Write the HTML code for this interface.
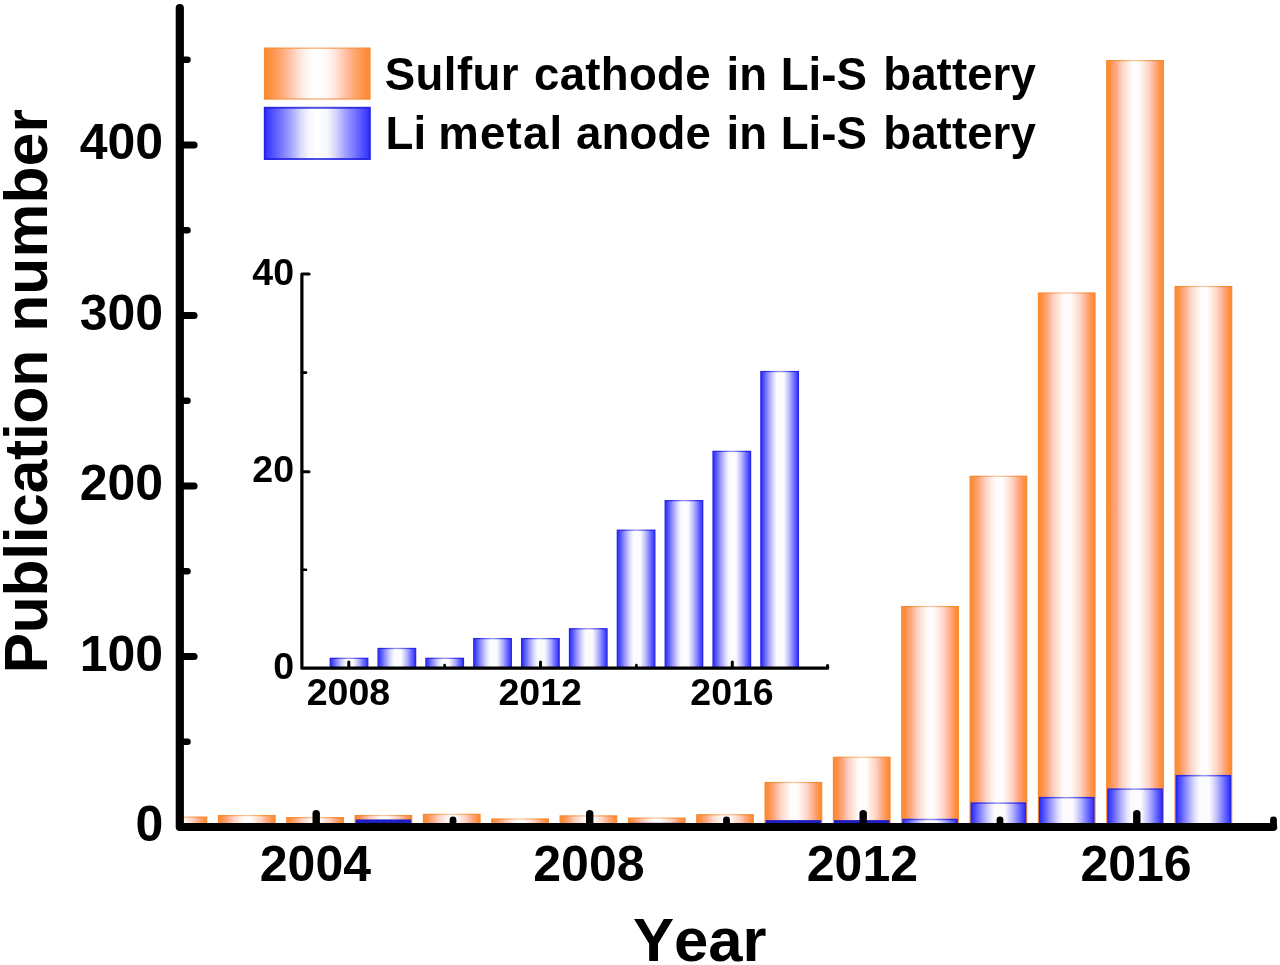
<!DOCTYPE html>
<html><head><meta charset="utf-8"><title>Publication number chart</title>
<style>html,body{margin:0;padding:0;background:#fff;}body{width:1280px;height:965px;overflow:hidden;}svg{display:block;filter:blur(0.55px);}text{font-family:"Liberation Sans",Arial,sans-serif;font-weight:bold;fill:#000;font-kerning:none;}</style></head><body>
<svg width="1280" height="965" viewBox="0 0 1280 965">
<defs>
<linearGradient id="go" x1="0" y1="0" x2="1" y2="0">
<stop offset="0" stop-color="#fb8a30"/><stop offset="0.06" stop-color="#ff9040"/><stop offset="0.16" stop-color="#ffa882"/><stop offset="0.27" stop-color="#fed2c2"/><stop offset="0.37" stop-color="#feeae3"/><stop offset="0.45" stop-color="#fffdfb"/><stop offset="0.57" stop-color="#fffdfb"/><stop offset="0.65" stop-color="#feeae3"/><stop offset="0.75" stop-color="#fed2c2"/><stop offset="0.86" stop-color="#ffa882"/><stop offset="0.95" stop-color="#ff9040"/><stop offset="1" stop-color="#fb8a30"/>
</linearGradient>
<linearGradient id="gb" x1="0" y1="0" x2="1" y2="0">
<stop offset="0" stop-color="#3030f4"/><stop offset="0.06" stop-color="#4848ff"/><stop offset="0.15" stop-color="#7c7cff"/><stop offset="0.25" stop-color="#b2b2ff"/><stop offset="0.34" stop-color="#dedefc"/><stop offset="0.43" stop-color="#fcfcff"/><stop offset="0.61" stop-color="#fcfcff"/><stop offset="0.68" stop-color="#dedefc"/><stop offset="0.77" stop-color="#b2b2ff"/><stop offset="0.86" stop-color="#7c7cff"/><stop offset="0.95" stop-color="#4848ff"/><stop offset="1" stop-color="#3434f4"/>
</linearGradient>
<linearGradient id="gos" x1="0" y1="0" x2="1" y2="0"><stop offset="0" stop-color="#f58a30"/><stop offset="0.12" stop-color="#f58a30"/><stop offset="0.5" stop-color="#fbc9a2"/><stop offset="0.88" stop-color="#f58a30"/><stop offset="1" stop-color="#f58a30"/></linearGradient>
<linearGradient id="gbs" x1="0" y1="0" x2="1" y2="0"><stop offset="0" stop-color="#2626e6"/><stop offset="0.12" stop-color="#2828e8"/><stop offset="0.5" stop-color="#9a9aee"/><stop offset="0.88" stop-color="#2828e8"/><stop offset="1" stop-color="#2626e6"/></linearGradient>
<linearGradient id="gol" x1="0" y1="0" x2="1" y2="0"><stop offset="0" stop-color="#fb8a30"/><stop offset="0.05" stop-color="#ff9040"/><stop offset="0.15" stop-color="#ffa66e"/><stop offset="0.25" stop-color="#ffc4aa"/><stop offset="0.34" stop-color="#ffe6dc"/><stop offset="0.42" stop-color="#fffaf7"/><stop offset="0.5" stop-color="#ffffff"/><stop offset="0.59" stop-color="#fffaf7"/><stop offset="0.67" stop-color="#ffe6dc"/><stop offset="0.76" stop-color="#ffc4aa"/><stop offset="0.86" stop-color="#ffa66e"/><stop offset="0.95" stop-color="#ff9040"/><stop offset="1" stop-color="#fb8a30"/></linearGradient>
<linearGradient id="gbl" x1="0" y1="0" x2="1" y2="0"><stop offset="0" stop-color="#3030f4"/><stop offset="0.05" stop-color="#4646ff"/><stop offset="0.15" stop-color="#7474ff"/><stop offset="0.25" stop-color="#a4a4ff"/><stop offset="0.34" stop-color="#d8d8fc"/><stop offset="0.42" stop-color="#f8f8ff"/><stop offset="0.5" stop-color="#ffffff"/><stop offset="0.59" stop-color="#f8f8ff"/><stop offset="0.67" stop-color="#d8d8fc"/><stop offset="0.76" stop-color="#a4a4ff"/><stop offset="0.86" stop-color="#7474ff"/><stop offset="0.95" stop-color="#4646ff"/><stop offset="1" stop-color="#3030f4"/></linearGradient>
<linearGradient id="gosl" x1="0" y1="0" x2="1" y2="0"><stop offset="0" stop-color="#f58a30"/><stop offset="0.5" stop-color="#f9b484"/><stop offset="1" stop-color="#f58a30"/></linearGradient>
<linearGradient id="gbsl" x1="0" y1="0" x2="1" y2="0"><stop offset="0" stop-color="#2424e4"/><stop offset="0.5" stop-color="#5050e8"/><stop offset="1" stop-color="#2424e4"/></linearGradient>
<clipPath id="clipmain"><rect x="180" y="0" width="1100" height="827.5"/></clipPath>
</defs>
<rect width="1280" height="965" fill="#fff"/>
<g clip-path="url(#clipmain)">
<rect x="150.14" y="817.11" width="56.6" height="9.89" fill="url(#go)" stroke="url(#gos)" stroke-width="1.2"/>
<rect x="218.47" y="815.58" width="56.6" height="11.42" fill="url(#go)" stroke="url(#gos)" stroke-width="1.2"/>
<rect x="286.80" y="817.62" width="56.6" height="9.38" fill="url(#go)" stroke="url(#gos)" stroke-width="1.2"/>
<rect x="355.13" y="815.58" width="56.6" height="11.42" fill="url(#go)" stroke="url(#gos)" stroke-width="1.2"/>
<rect x="423.46" y="814.38" width="56.6" height="12.62" fill="url(#go)" stroke="url(#gos)" stroke-width="1.2"/>
<rect x="491.79" y="818.99" width="56.6" height="8.01" fill="url(#go)" stroke="url(#gos)" stroke-width="1.2"/>
<rect x="560.12" y="815.92" width="56.6" height="11.08" fill="url(#go)" stroke="url(#gos)" stroke-width="1.2"/>
<rect x="628.45" y="818.13" width="56.6" height="8.87" fill="url(#go)" stroke="url(#gos)" stroke-width="1.2"/>
<rect x="696.78" y="814.72" width="56.6" height="12.28" fill="url(#go)" stroke="url(#gos)" stroke-width="1.2"/>
<rect x="765.11" y="782.50" width="56.6" height="44.50" fill="url(#go)" stroke="url(#gos)" stroke-width="1.2"/>
<rect x="833.44" y="757.27" width="56.6" height="69.73" fill="url(#go)" stroke="url(#gos)" stroke-width="1.2"/>
<rect x="901.77" y="606.54" width="56.6" height="220.46" fill="url(#go)" stroke="url(#gos)" stroke-width="1.2"/>
<rect x="970.10" y="476.28" width="56.6" height="350.72" fill="url(#go)" stroke="url(#gos)" stroke-width="1.2"/>
<rect x="1038.43" y="292.99" width="56.6" height="534.01" fill="url(#go)" stroke="url(#gos)" stroke-width="1.2"/>
<rect x="1106.76" y="60.60" width="56.6" height="766.40" fill="url(#go)" stroke="url(#gos)" stroke-width="1.2"/>
<rect x="1175.09" y="286.51" width="56.6" height="540.49" fill="url(#go)" stroke="url(#gos)" stroke-width="1.2"/>
<rect x="356.38" y="820.18" width="54.1" height="6.82" fill="#1f1fc2" stroke="#1f1fc2" stroke-width="1.5"/>
<rect x="561.37" y="825.29" width="54.1" height="1.71" fill="#1f1fc2" stroke="#1f1fc2" stroke-width="1.5"/>
<rect x="629.70" y="823.59" width="54.1" height="3.41" fill="#1f1fc2" stroke="#1f1fc2" stroke-width="1.5"/>
<rect x="698.03" y="825.29" width="54.1" height="1.71" fill="#1f1fc2" stroke="#1f1fc2" stroke-width="1.5"/>
<rect x="766.36" y="820.86" width="54.1" height="6.14" fill="#1f1fc2" stroke="#1f1fc2" stroke-width="1.5"/>
<rect x="834.69" y="820.86" width="54.1" height="6.14" fill="#1f1fc2" stroke="#1f1fc2" stroke-width="1.5"/>
<rect x="903.02" y="819.50" width="54.1" height="7.50" fill="url(#gb)" stroke="url(#gbs)" stroke-width="1.5"/>
<rect x="971.35" y="803.13" width="54.1" height="23.87" fill="url(#gb)" stroke="url(#gbs)" stroke-width="1.5"/>
<rect x="1039.68" y="797.67" width="54.1" height="29.33" fill="url(#gb)" stroke="url(#gbs)" stroke-width="1.5"/>
<rect x="1108.01" y="789.15" width="54.1" height="37.85" fill="url(#gb)" stroke="url(#gbs)" stroke-width="1.5"/>
<rect x="1176.34" y="775.68" width="54.1" height="51.32" fill="url(#gb)" stroke="url(#gbs)" stroke-width="1.5"/>
</g>
<g stroke="#000" stroke-linecap="round" fill="none">
<path d="M179.8 8 V827 H1273.2" stroke-width="8.2" stroke-linejoin="round"/>
<line x1="182" x2="194" y1="656.5" y2="656.5" stroke-width="7.2"/>
<line x1="182" x2="194" y1="486.0" y2="486.0" stroke-width="7.2"/>
<line x1="182" x2="194" y1="315.5" y2="315.5" stroke-width="7.2"/>
<line x1="182" x2="194" y1="145.0" y2="145.0" stroke-width="7.2"/>
<line x1="182" x2="187.5" y1="741.8" y2="741.8" stroke-width="6.5"/>
<line x1="182" x2="187.5" y1="571.2" y2="571.2" stroke-width="6.5"/>
<line x1="182" x2="187.5" y1="400.8" y2="400.8" stroke-width="6.5"/>
<line x1="182" x2="187.5" y1="230.2" y2="230.2" stroke-width="6.5"/>
<line x1="182" x2="187.5" y1="59.8" y2="59.8" stroke-width="6.5"/>
<line x1="316.2" x2="316.2" y1="824.5" y2="813.6" stroke-width="7.4"/>
<line x1="589.7" x2="589.7" y1="824.5" y2="813.6" stroke-width="7.4"/>
<line x1="863.2" x2="863.2" y1="824.5" y2="813.6" stroke-width="7.4"/>
<line x1="1136.8" x2="1136.8" y1="824.5" y2="813.6" stroke-width="7.4"/>
<line x1="453.0" x2="453.0" y1="824.5" y2="819.8" stroke-width="6.8"/>
<line x1="726.5" x2="726.5" y1="824.5" y2="819.8" stroke-width="6.8"/>
<line x1="1000.0" x2="1000.0" y1="824.5" y2="819.8" stroke-width="6.8"/>
<line x1="1273.5" x2="1273.5" y1="824.5" y2="819.8" stroke-width="6.8"/>
</g>
<text x="163.2" y="841.1" font-size="50" text-anchor="end">0</text>
<text x="163.2" y="670.6" font-size="50" text-anchor="end">100</text>
<text x="163.2" y="500.1" font-size="50" text-anchor="end">200</text>
<text x="163.2" y="329.6" font-size="50" text-anchor="end">300</text>
<text x="163.2" y="159.1" font-size="50" text-anchor="end">400</text>
<text x="315.4" y="881" font-size="50" text-anchor="middle">2004</text>
<text x="588.9" y="881" font-size="50" text-anchor="middle">2008</text>
<text x="862.4" y="881" font-size="50" text-anchor="middle">2012</text>
<text x="1136.0" y="881" font-size="50" text-anchor="middle">2016</text>
<text x="632.9" y="960.9" font-size="61.6">Year</text>
<text transform="translate(46.5,673.3) rotate(-90)" font-size="60.4" xml:space="preserve"><tspan letter-spacing="-0.2">Publication </tspan><tspan dx="1.6" letter-spacing="0.3">number</tspan></text>
<rect x="264.6" y="48.2" width="105.3" height="50.8" fill="url(#gol)" stroke="url(#gosl)" stroke-width="1.4"/>
<rect x="264.8" y="107.8" width="105" height="51.2" fill="url(#gbl)" stroke="url(#gbsl)" stroke-width="2"/>
<text y="90.2" font-size="45.6" xml:space="preserve"><tspan x="384.80" letter-spacing="0.4">Sulfur </tspan><tspan x="534.00" letter-spacing="0.3">cathode </tspan><tspan x="726.50">in </tspan><tspan x="780.75">Li-S </tspan><tspan x="883.20" letter-spacing="0.1">battery</tspan></text>
<text y="149.2" font-size="45.6" xml:space="preserve"><tspan x="385.60">Li </tspan><tspan x="438.30" letter-spacing="1.2">metal </tspan><tspan x="575.90" letter-spacing="0.2">anode </tspan><tspan x="726.50">in </tspan><tspan x="780.75">Li-S </tspan><tspan x="883.20" letter-spacing="0.1">battery</tspan></text>
<rect x="330.25" y="658.35" width="37.5" height="9.86" fill="url(#gb)" stroke="url(#gbs)" stroke-width="1.3"/>
<rect x="378.10" y="648.49" width="37.5" height="19.71" fill="url(#gb)" stroke="url(#gbs)" stroke-width="1.3"/>
<rect x="425.95" y="658.35" width="37.5" height="9.86" fill="url(#gb)" stroke="url(#gbs)" stroke-width="1.3"/>
<rect x="473.80" y="638.63" width="37.5" height="29.57" fill="url(#gb)" stroke="url(#gbs)" stroke-width="1.3"/>
<rect x="521.65" y="638.63" width="37.5" height="29.57" fill="url(#gb)" stroke="url(#gbs)" stroke-width="1.3"/>
<rect x="569.50" y="628.78" width="37.5" height="39.42" fill="url(#gb)" stroke="url(#gbs)" stroke-width="1.3"/>
<rect x="617.35" y="530.23" width="37.5" height="137.97" fill="url(#gb)" stroke="url(#gbs)" stroke-width="1.3"/>
<rect x="665.20" y="500.67" width="37.5" height="167.53" fill="url(#gb)" stroke="url(#gbs)" stroke-width="1.3"/>
<rect x="713.05" y="451.39" width="37.5" height="216.81" fill="url(#gb)" stroke="url(#gbs)" stroke-width="1.3"/>
<rect x="760.90" y="371.56" width="37.5" height="296.64" fill="url(#gb)" stroke="url(#gbs)" stroke-width="1.3"/>
<g stroke="#000" fill="none" stroke-linecap="round" stroke-linejoin="round">
<path d="M309 274 H301.9 V668.2 H827.6 V665.6" stroke-width="3.2"/>
<line x1="302" x2="309" y1="471.7" y2="471.7" stroke-width="3"/>
<line x1="302" x2="306" y1="569.7" y2="569.7" stroke-width="2.6"/>
<line x1="302" x2="306" y1="372.6" y2="372.6" stroke-width="2.6"/>
<line x1="348.8" x2="348.8" y1="667.5" y2="662" stroke-width="3"/>
<line x1="540.5" x2="540.5" y1="667.5" y2="662" stroke-width="3"/>
<line x1="732.3" x2="732.3" y1="667.5" y2="662" stroke-width="3"/>
<line x1="444.6" x2="444.6" y1="667.5" y2="665" stroke-width="2.6"/>
<line x1="636.4" x2="636.4" y1="667.5" y2="665" stroke-width="2.6"/>
</g>
<text x="294" y="679.4" font-size="37.5" text-anchor="end">0</text>
<text x="294" y="482.3" font-size="37.5" text-anchor="end">20</text>
<text x="294" y="285.2" font-size="37.5" text-anchor="end">40</text>
<text x="348.4" y="704.8" font-size="37.5" text-anchor="middle">2008</text>
<text x="540.2" y="704.8" font-size="37.5" text-anchor="middle">2012</text>
<text x="732.0" y="704.8" font-size="37.5" text-anchor="middle">2016</text>
</svg></body></html>
